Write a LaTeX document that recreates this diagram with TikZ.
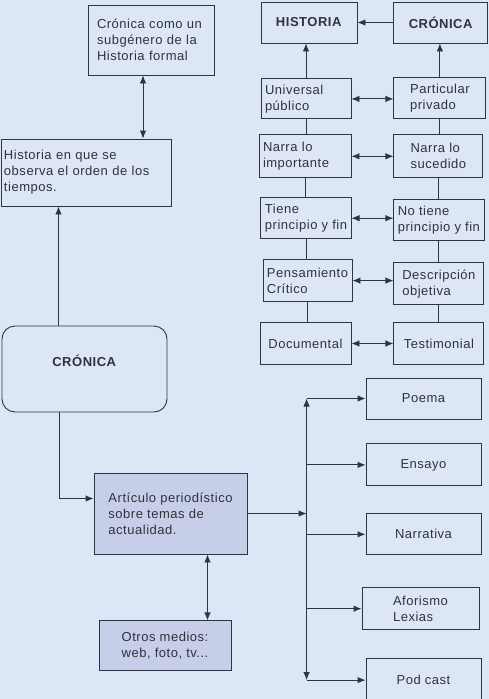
\documentclass[tikz,border=0pt]{standalone}
\usepackage{fontspec}
\setmainfont{Liberation Sans}[LetterSpace=4]
\usetikzlibrary{positioning,arrows.meta}

\definecolor{bgblue}{RGB}{221,230,247}
\definecolor{boxblue}{RGB}{199,206,232}
\definecolor{edge}{RGB}{45,52,68}
\definecolor{ink}{RGB}{48,50,60}

\tikzset{
  cell/.style={draw=edge, line width=0.9pt, fill=bgblue, align=left, inner xsep=4pt,
    text=ink, font=\fontsize{13}{16}\selectfont},
  shaded/.style={cell, fill=boxblue},
  arr/.style={draw=edge, line width=0.9pt, -{Latex[length=8pt,width=6.5pt]}},
  darr/.style={arr, {Latex[length=8pt,width=6.5pt]}-{Latex[length=8pt,width=6.5pt]}},
  link/.style={draw=edge, line width=0.9pt}
}

\begin{document}
\begin{tikzpicture}[x=1pt, y=-1pt]
  % Background
  \fill[bgblue] (0,0) rectangle (489,699);
  \useasboundingbox (0,0) rectangle (489,699);

  % Nodes, left side
  \node[cell, minimum height=70pt, inner xsep=9pt, text width=108pt] (subgen) at (151,40) {Crónica como un\\subgénero de la\\Historia formal};
  \node[cell, minimum height=67pt, inner xsep=3pt, text width=164pt] (hist) at (86,172.5) {Historia en que se\\observa el orden de los\\tiempos.};
  \node[cell, rounded corners=13pt, minimum width=165pt, minimum height=86pt, text height=9pt, text depth=15pt] (cron) at (84.5,369) {\textbf{CRÓNICA}};
  \node[shaded, minimum width=153pt, minimum height=81pt] (articulo) at (170.5,513.5) {Artículo periodístico\\sobre temas de\\actualidad.};
  \node[shaded, align=center, minimum width=132pt, minimum height=50pt, below=66pt of articulo, xshift=-5.5pt] (otros) {Otros medios:\\web, foto, tv...};

  % Nodes, comparison table
  \node[cell, minimum width=96pt, minimum height=41pt] (historia) at (309,22.5) {\textbf{HISTORIA}};
  \node[cell, minimum width=94pt, minimum height=41pt, right=36pt of historia] (cronica) {\textbf{CRÓNICA}};

  \node[cell, minimum height=40pt, text width=82pt, below=35pt of historia, xshift=-3pt] (univ) {Universal\\público};
  \node[cell, minimum height=43pt, text width=84pt, below=15pt of univ, xshift=-1pt] (narraH) {Narra lo\\importante};
  \node[cell, minimum width=90pt, minimum height=41pt, below=19pt of narraH, xshift=1pt] (tiene) {Tiene\\principio y fin};
  \node[cell, minimum width=89pt, minimum height=42pt, below=20pt of tiene, xshift=1.5pt] (pensa) {Pensamiento\\Crítico};
  \node[cell, minimum width=91pt, minimum height=42pt, below=20pt of pensa, xshift=-2pt] (docu) {Documental};

  \node[cell, minimum width=92pt, minimum height=41pt, below=34pt of cronica, xshift=-1pt] (parti) {Particular\\privado};
  \node[cell, minimum width=89pt, minimum height=43pt, below=15pt of parti, xshift=-1.5pt] (narraC) {Narra lo\\sucedido};
  \node[cell, minimum width=90pt, minimum height=41pt, below=21pt of narraC, xshift=0.5pt] (notiene) {No tiene\\principio y fin};
  \node[cell, minimum width=90pt, minimum height=42pt, below=21pt of notiene] (descr) {Descripción\\objetiva};
  \node[cell, minimum width=90pt, minimum height=42pt, below=17pt of descr] (testi) {Testimonial};

  % Nodes, genres
  \node[cell, align=center, minimum width=115pt, minimum height=41pt] (poema) at (423.5,398.5) {Poema};
  \node[cell, align=center, minimum width=115pt, minimum height=42pt, below=24pt of poema] (ensayo) {Ensayo};
  \node[cell, align=center, minimum width=115pt, minimum height=41pt, below=27pt of ensayo] (narrativa) {Narrativa};
  \node[cell, minimum width=117pt, minimum height=42pt, below=32pt of narrativa, xshift=-3pt] (aforismo) {Aforismo\\Lexias};
  \node[cell, align=center, minimum width=115pt, minimum height=43pt, below=28pt of aforismo, xshift=3pt] (podcast) {Pod cast};

  % Helper points
  \coordinate (sg) at ([xshift=-8pt]subgen.south);
  \coordinate (cn) at ([xshift=-26pt]cron.north);
  \coordinate (cs) at ([xshift=-25pt]cron.south);
  \coordinate (aw) at ([yshift=15pt]articulo.west);
  \coordinate (as) at ([xshift=37pt]articulo.south);
  \coordinate (bustop) at ([xshift=-59pt]poema.west);
  \coordinate (busbot) at (bustop |- podcast.west);
  \coordinate (busin) at (bustop |- articulo.east);

  % Edges, left side
  \draw[darr] (sg) -- (sg |- hist.north);
  \draw[arr] (cn) -- (cn |- hist.south);
  \draw[arr] (cs) |- (aw);
  \draw[darr] (as) -- (as |- otros.north);
  \draw[arr] (articulo.east) -- (busin);
  \draw[darr] (bustop) -- (busbot);
  \draw[arr] (bustop |- poema.west) -- (poema.west);
  \draw[arr] (bustop |- ensayo.west) -- (ensayo.west);
  \draw[arr] (bustop |- narrativa.west) -- (narrativa.west);
  \draw[arr] (bustop |- aforismo.west) -- (aforismo.west);
  \draw[arr] (bustop |- podcast.west) -- (podcast.west);

  % Edges, comparison table
  \draw[arr] (cronica.west) -- (historia.east);
  \draw[arr] (univ.north) -- (univ.north |- historia.south);
  \draw[arr] (parti.north) -- (parti.north |- cronica.south);

  \draw[link] (univ.south) -- (univ.south |- narraH.north);
  \draw[link] (narraH.south) -- (narraH.south |- tiene.north);
  \draw[link] (tiene.south) -- (tiene.south |- pensa.north);
  \draw[link] (pensa.south) -- (pensa.south |- docu.north);
  \draw[link] (parti.south) -- (parti.south |- narraC.north);
  \draw[link] (narraC.south) -- (narraC.south |- notiene.north);
  \draw[link] (notiene.south) -- (notiene.south |- descr.north);
  \draw[link] (descr.south) -- (descr.south |- testi.north);

  \draw[darr] (univ.east) -- (univ.east -| parti.west);
  \draw[darr] (narraH.east) -- (narraH.east -| narraC.west);
  \draw[darr] (tiene.east) -- (tiene.east -| notiene.west);
  \draw[darr] (pensa.east) -- (pensa.east -| descr.west);
  \draw[darr] (docu.east) -- (docu.east -| testi.west);
\end{tikzpicture}
\end{document}
